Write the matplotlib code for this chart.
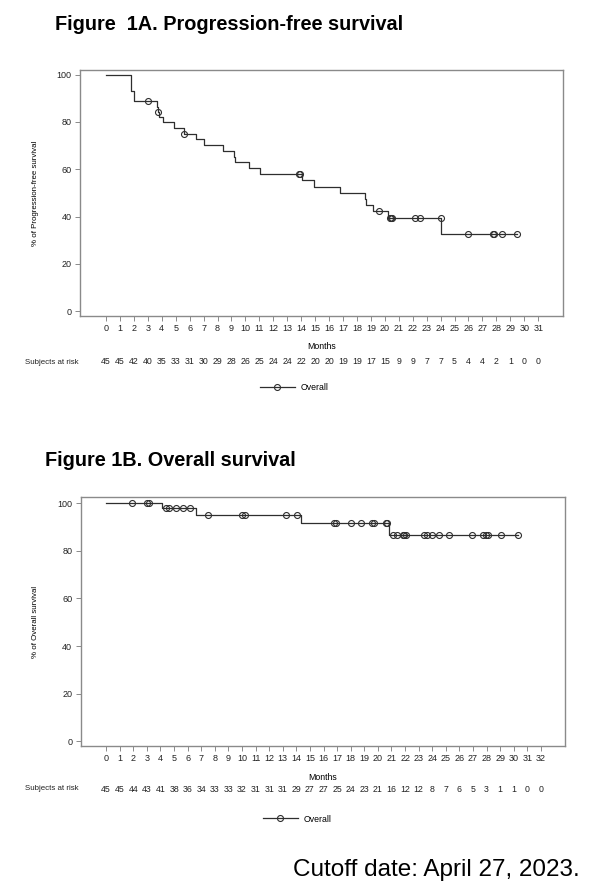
import numpy as np
import matplotlib
matplotlib.use('Agg')
import matplotlib.pyplot as plt
from matplotlib import transforms
from matplotlib.lines import Line2D

plt.rcParams['font.family'] = ['Liberation Sans', 'DejaVu Sans']

# Figure 1A: progression-free survival (step times in months, survival %)
pfs_times = [0, 1.79, 2.0, 3.63, 3.72, 3.83, 4.1, 4.9, 5.6, 6.46, 7.03, 8.39, 9.16, 9.22,
             10.26, 11.07, 14.04, 14.95, 16.8, 18.55, 18.65, 19.13, 20.25, 24.05]
pfs_surv = [100, 93.3, 88.9, 86.4, 84.3, 82.0, 79.9, 77.5, 75.1, 72.6, 70.2, 67.9, 65.3, 63.2,
            60.5, 58.1, 55.4, 52.7, 50.1, 47.3, 44.7, 42.2, 39.3, 32.8]
pfs_end = 29.5
pfs_censor = [2.99, 3.75, 5.6, 13.85, 13.95, 19.6, 20.35, 20.42, 20.5, 22.2, 22.5, 24.0,
              25.95, 27.75, 27.85, 28.43, 29.5]
pfs_months = list(range(0, 32))
pfs_at_risk = [45, 45, 42, 40, 35, 33, 31, 30, 29, 28, 26, 25, 24, 24, 22, 20, 20, 19, 19,
               17, 15, 9, 9, 7, 7, 5, 4, 4, 2, 1, 0, 0]

# Figure 1B: overall survival
os_times = [0, 4.1, 6.62, 14.33, 20.82]
os_surv = [100, 97.8, 95.2, 91.6, 86.6]
os_end = 30.34
os_censor = [1.89, 3.04, 3.19, 4.42, 4.61, 5.15, 5.69, 6.18, 7.46, 9.98, 10.25, 13.24, 14.08,
             16.8, 16.9, 18.0, 18.76, 19.6, 19.7, 20.6, 20.7, 21.1, 21.44, 21.85, 21.95, 22.08,
             23.4, 23.64, 24.0, 24.5, 25.26, 26.95, 27.7, 27.93, 28.12, 29.03, 30.34]
os_months = list(range(0, 33))
os_at_risk = [45, 45, 44, 43, 41, 38, 36, 34, 33, 33, 32, 31, 31, 31, 29, 27, 27, 25, 24, 23,
              21, 16, 12, 12, 8, 7, 6, 5, 3, 1, 1, 0, 0]

W, H = 589, 890
line_col = '#2e2e2e'
frame_col = '#8a8a8a'

fig = plt.figure(figsize=(W / 100, H / 100), dpi=100)


def km_panel(rect, times, surv, end, censor, months, at_risk, xlim, ylim, ylabel,
             risk_y, legend_xy, months_y):
    ax = fig.add_axes([rect[0] / W, 1 - rect[3] / H, (rect[2] - rect[0]) / W, (rect[3] - rect[1]) / H])
    t = list(times) + [end]
    s = list(surv) + [surv[-1]]
    ax.step(t, s, where='post', color=line_col, lw=0.9)
    idx = np.searchsorted(times, censor, side='right') - 1
    cy = np.array(surv)[idx]
    ax.plot(censor, cy, 'o', ms=4.3, mfc='none', mec=line_col, mew=0.8)
    ax.set_xlim(*xlim)
    ax.set_ylim(*ylim)
    ax.set_xticks(months)
    ax.set_yticks([0, 20, 40, 60, 80, 100])
    for sp in ax.spines.values():
        sp.set_color(frame_col)
        sp.set_linewidth(1.0)
    ax.tick_params(axis='both', direction='out', length=3.5, width=0.7, color=frame_col,
                   labelsize=6.5, pad=2.5, labelcolor='#222222')
    ax.set_ylabel(ylabel, fontsize=5.7, labelpad=13)
    ax.set_xlabel('Months', fontsize=6.3)
    ax.xaxis.set_label_coords(0.5, (rect[3] - months_y) / (rect[3] - rect[1]))
    tr = transforms.blended_transform_factory(ax.transData, fig.transFigure)
    yf = 1 - risk_y / H
    for m, n in zip(months, at_risk):
        ax.text(m, yf, str(n), transform=tr, ha='center', va='center', fontsize=6.3,
                color='#222222', clip_on=False)
    fig.text(25 / W, yf, 'Subjects at risk', ha='left', va='center', fontsize=5.7, color='#222222')
    h = Line2D([], [], color=line_col, lw=0.9, marker='o', ms=4.3, mfc='none', mec=line_col, mew=0.8)
    fig.legend([h], ['Overall'], loc='center', bbox_to_anchor=(legend_xy[0] / W, 1 - legend_xy[1] / H),
               frameon=False, fontsize=6.3, handlelength=4.0, handletextpad=0.6, borderpad=0)
    return ax


fig.text(55 / W, 1 - 25 / H, 'Figure  1A. Progression-free survival', fontsize=14.3,
         fontweight='bold', ha='left', va='center')
km_panel((80, 70, 563, 316), pfs_times, pfs_surv, pfs_end, pfs_censor, pfs_months, pfs_at_risk,
         (-1.865, 32.78), (-2.1, 102.0), '% of Progression-free survival', 362, (294, 388), 342)

fig.text(45 / W, 1 - 460 / H, 'Figure 1B. Overall survival', fontsize=14.3,
         fontweight='bold', ha='left', va='center')
km_panel((80.6, 497, 565, 746), os_times, os_surv, os_end, os_censor, os_months, os_at_risk,
         (-1.88, 33.77), (-2.0, 102.6), '% of Overall survival', 789, (297, 819), 773)

fig.text(580 / W, 1 - 870 / H, 'Cutoff date: April 27, 2023.', fontsize=17.5, ha='right', va='center')

fig.savefig('out.png', dpi=100)
